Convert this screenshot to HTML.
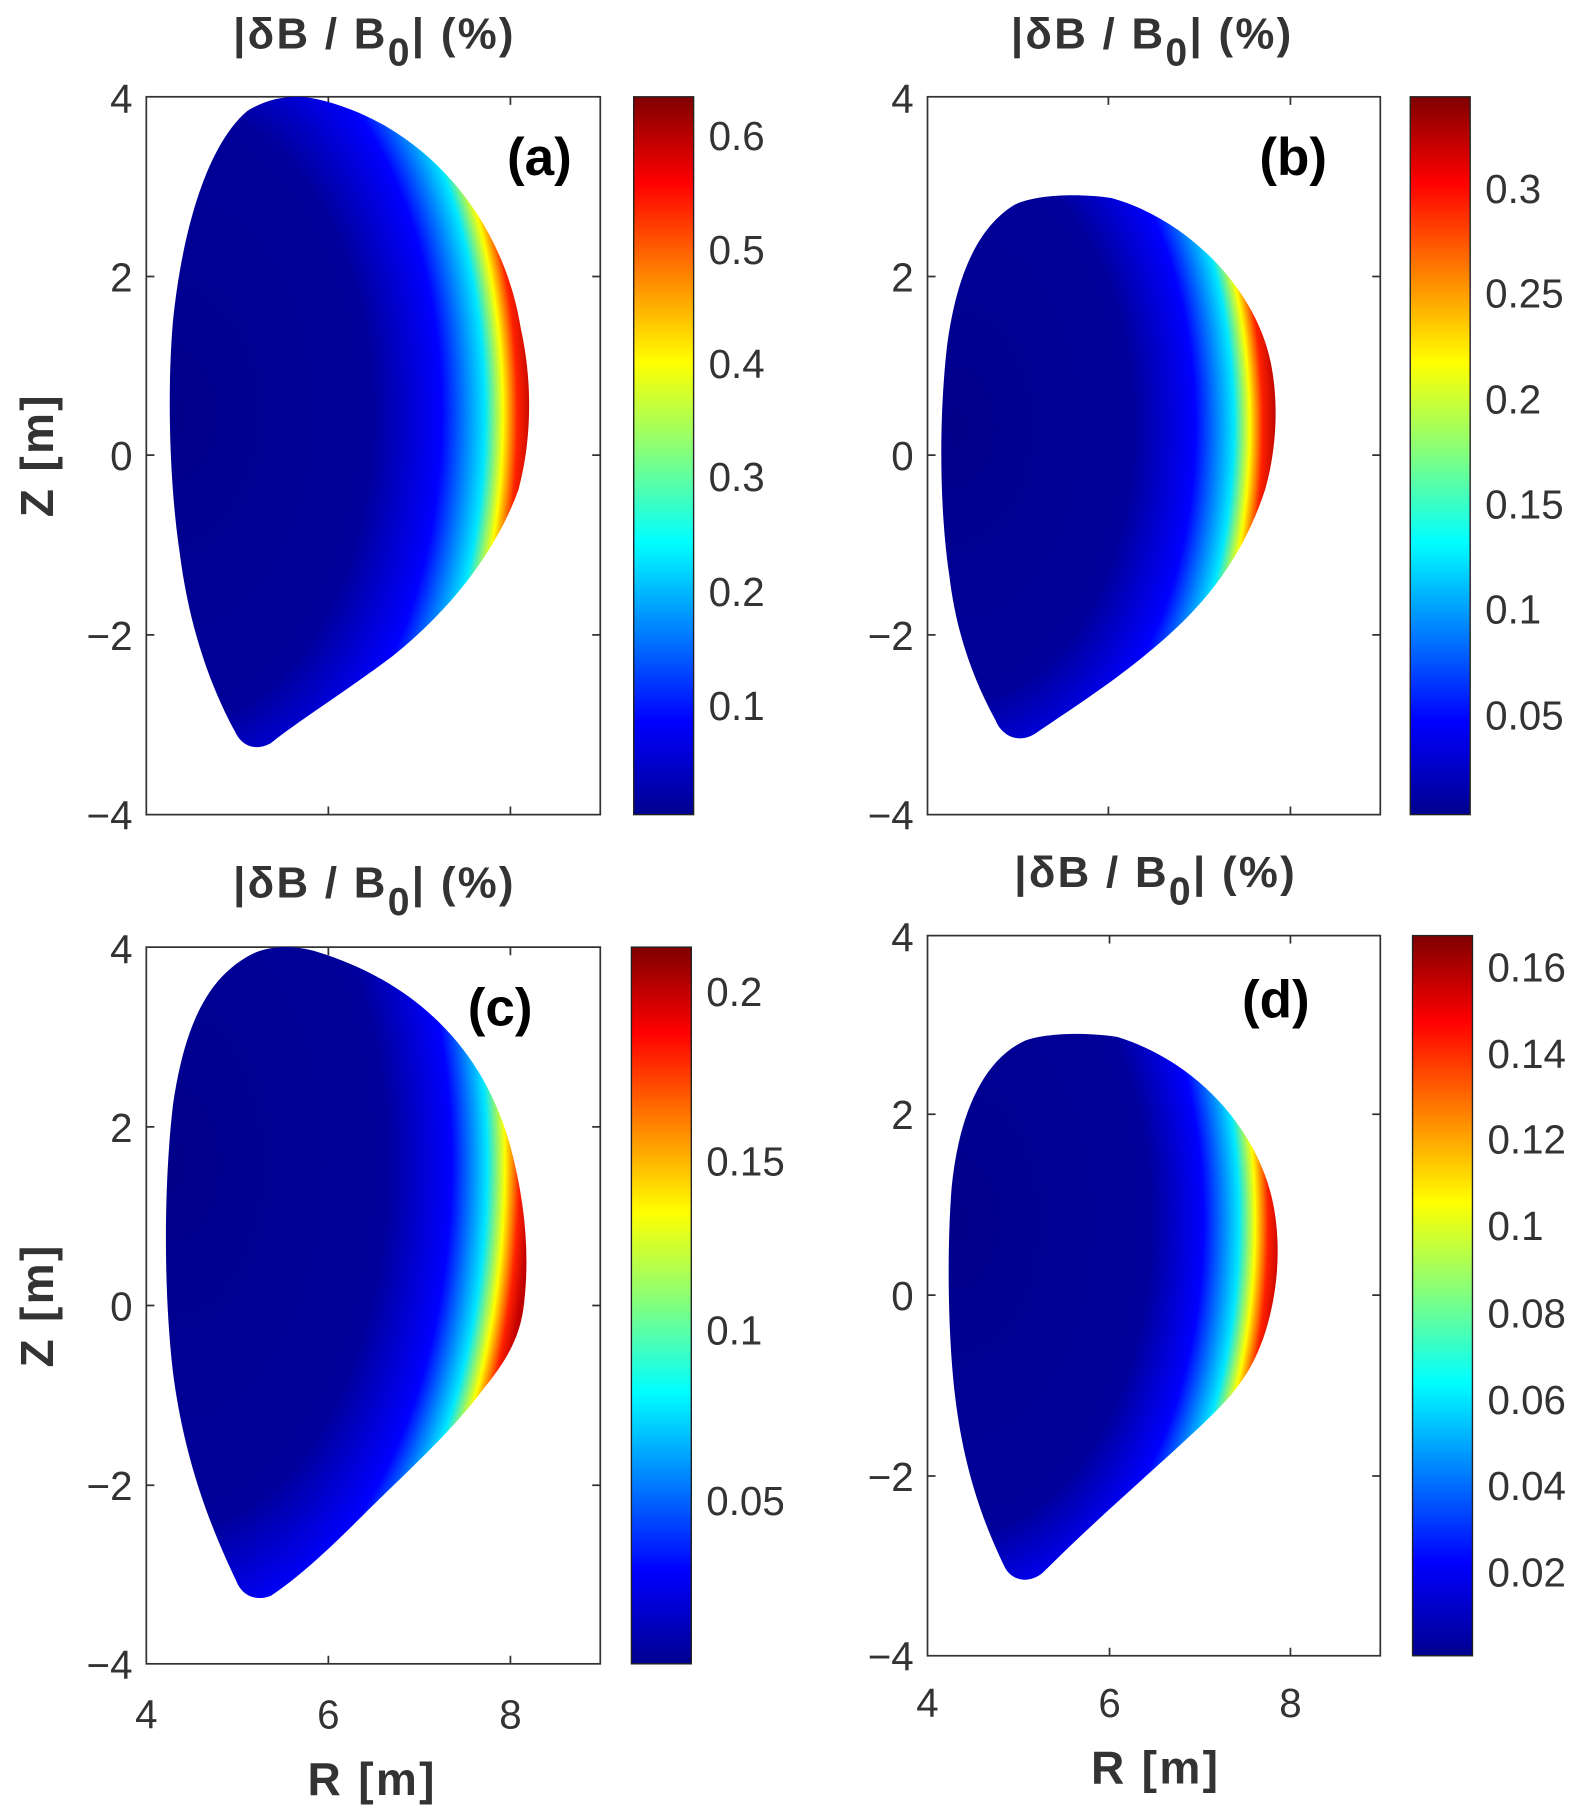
<!DOCTYPE html>
<html><head><meta charset="utf-8"><style>
html,body{margin:0;padding:0;background:#fff;}
svg{display:block;}
text{font-family:"Liberation Sans","DejaVu Sans",sans-serif;}
.t{font-size:35px;fill:#333;font-family:"DejaVu Sans","Liberation Sans",sans-serif;}
.b{font-weight:bold;fill:#333;}
</style></head><body>
<svg width="1590" height="1809" viewBox="0 0 1380 1570" preserveAspectRatio="none" xmlns="http://www.w3.org/2000/svg">
<defs>
<linearGradient id="cb" x1="0" y1="0" x2="0" y2="1">
<stop offset="0" stop-color="#7f0000"/><stop offset="0.12" stop-color="#ff0000"/>
<stop offset="0.37" stop-color="#ffff00"/><stop offset="0.5" stop-color="#80ff80"/>
<stop offset="0.62" stop-color="#00ffff"/><stop offset="0.87" stop-color="#0000ff"/>
<stop offset="1" stop-color="#00008f"/></linearGradient>
<radialGradient id="ga" gradientUnits="userSpaceOnUse" cx="150" cy="360" r="315" gradientTransform="translate(150,360) scale(1,1.55) translate(-150,-360)">
<stop offset="0" stop-color="#00008a"/><stop offset="0.55" stop-color="#00009a"/><stop offset="0.74" stop-color="#0000ff"/><stop offset="0.86" stop-color="#00e8ff"/><stop offset="0.91" stop-color="#ffff00"/><stop offset="0.95" stop-color="#ff2000"/><stop offset="1" stop-color="#b00000"/></radialGradient>
<radialGradient id="gb" gradientUnits="userSpaceOnUse" cx="830" cy="370" r="280" gradientTransform="translate(830,370) scale(1,1.55) translate(-830,-370)">
<stop offset="0" stop-color="#00008a"/><stop offset="0.55" stop-color="#00009a"/><stop offset="0.74" stop-color="#0000ff"/><stop offset="0.86" stop-color="#00e8ff"/><stop offset="0.91" stop-color="#ffff00"/><stop offset="0.95" stop-color="#ff2000"/><stop offset="1" stop-color="#b00000"/></radialGradient>
<radialGradient id="gc" gradientUnits="userSpaceOnUse" cx="150" cy="1010" r="310" gradientTransform="translate(150,1010) scale(1,1.7) translate(-150,-1010)">
<stop offset="0" stop-color="#00008a"/><stop offset="0.6" stop-color="#00009a"/><stop offset="0.78" stop-color="#0000ff"/><stop offset="0.88" stop-color="#00e8ff"/><stop offset="0.93" stop-color="#ffff00"/><stop offset="0.97" stop-color="#ff2000"/><stop offset="1" stop-color="#c00000"/></radialGradient>
<radialGradient id="gd" gradientUnits="userSpaceOnUse" cx="830" cy="1060" r="282" gradientTransform="translate(830,1060) scale(1,1.6) translate(-830,-1060)">
<stop offset="0" stop-color="#00008a"/><stop offset="0.6" stop-color="#00009a"/><stop offset="0.76" stop-color="#0000ff"/><stop offset="0.87" stop-color="#00e8ff"/><stop offset="0.92" stop-color="#ffff00"/><stop offset="0.96" stop-color="#ff2000"/><stop offset="1" stop-color="#c00000"/></radialGradient>
</defs>

<g font-size="38" class="b" text-anchor="middle" letter-spacing="2">
<text x="325" y="42">|δB / B<tspan dy="15" font-size="34">0</tspan><tspan dy="-15">|  (%)</tspan></text>
<text x="1000" y="42">|δB / B<tspan dy="15" font-size="34">0</tspan><tspan dy="-15">|  (%)</tspan></text>
<text x="325" y="779">|δB / B<tspan dy="15" font-size="34">0</tspan><tspan dy="-15">|  (%)</tspan></text>
<text x="1003" y="770">|δB / B<tspan dy="15" font-size="34">0</tspan><tspan dy="-15">|  (%)</tspan></text>
</g>

<g fill="none" stroke="#333" stroke-width="1.5">
<rect x="127" y="84" width="394" height="623"/>
<rect x="805" y="84" width="393" height="623"/>
<rect x="127" y="822" width="394" height="622"/>
<rect x="805" y="812" width="393" height="625"/>
<path d="M127 240h7M127 395h7M127 551h7M521 240h-7M521 395h-7M521 551h-7M285 707v-7M443 707v-7M285 84v7M443 84v7"/>
<path d="M805 240h7M805 395h7M805 551h7M1198 240h-7M1198 395h-7M1198 551h-7M962 707v-7M1120 707v-7M962 84v7M1120 84v7"/>
<path d="M127 978h7M127 1133h7M127 1289h7M521 978h-7M521 1133h-7M521 1289h-7M285 1444v-7M443 1444v-7M285 822v7M443 822v7"/>
<path d="M805 967h7M805 1124h7M805 1281h7M1198 967h-7M1198 1124h-7M1198 1281h-7M963 1437v-7M1120 1437v-7M963 812v7M1120 812v7"/>
</g>

<path fill="url(#ga)" d="M215 96 C235 84 255 82 275 86 C360 105 435 180 452 285 C462 330 462 380 450 425 C430 480 390 530 340 570 C300 600 260 625 235 645 C222 652 210 648 204 635 C185 600 165 550 156 480 C147 420 145 340 150 280 C158 200 180 125 215 96 Z"/>
<path fill="url(#gb)" d="M880 178 C900 168 940 168 965 172 C1030 190 1090 250 1103 315 C1110 350 1108 390 1098 425 C1080 480 1050 520 1010 555 C970 590 930 615 898 637 C885 645 870 640 864 625 C845 590 830 550 824 500 C815 440 815 360 822 300 C830 240 848 198 880 178 Z"/>
<path fill="url(#gc)" d="M215 830 C232 820 255 820 275 826 C360 852 420 910 443 995 C455 1040 460 1085 455 1130 C452 1160 440 1180 420 1205 C390 1245 350 1280 310 1320 C285 1345 258 1370 235 1385 C222 1390 210 1385 205 1372 C185 1330 160 1270 150 1190 C142 1120 142 1030 150 960 C160 890 180 850 215 830 Z"/>
<path fill="url(#gd)" d="M890 903 C910 896 945 896 970 900 C1040 922 1090 980 1104 1040 C1112 1075 1110 1115 1100 1150 C1090 1185 1075 1205 1055 1225 C1020 1260 960 1310 905 1365 C893 1375 878 1372 872 1360 C855 1325 838 1280 830 1220 C822 1160 822 1080 826 1030 C832 970 852 920 890 903 Z"/>

<g font-size="46" font-weight="bold" fill="#000">
<text x="440" y="152">(a)</text>
<text x="1093" y="152">(b)</text>
<text x="406" y="890">(c)</text>
<text x="1078" y="883">(d)</text>
</g>

<g stroke="#222" stroke-width="1.2">
<rect x="550" y="84" width="52" height="623" fill="url(#cb)"/>
<rect x="1224" y="84" width="52" height="623" fill="url(#cb)"/>
<rect x="548" y="822" width="52" height="622" fill="url(#cb)"/>
<rect x="1226" y="812" width="52" height="625" fill="url(#cb)"/>
</g>

<g class="t" text-anchor="end">
<text x="115" y="98">4</text><text x="115" y="253">2</text><text x="115" y="408">0</text><text x="115" y="564">−2</text><text x="115" y="720">−4</text>
<text x="793" y="98">4</text><text x="793" y="253">2</text><text x="793" y="408">0</text><text x="793" y="564">−2</text><text x="793" y="720">−4</text>
<text x="115" y="836">4</text><text x="115" y="991">2</text><text x="115" y="1146">0</text><text x="115" y="1302">−2</text><text x="115" y="1457">−4</text>
<text x="793" y="826">4</text><text x="793" y="980">2</text><text x="793" y="1137">0</text><text x="793" y="1294">−2</text><text x="793" y="1450">−4</text>
</g>
<g class="t" text-anchor="middle">
<text x="127" y="1500">4</text><text x="285" y="1500">6</text><text x="443" y="1500">8</text>
<text x="805" y="1490">4</text><text x="963" y="1490">6</text><text x="1120" y="1490">8</text>
</g>

<g class="t">
<text x="615" y="130">0.6</text><text x="615" y="229">0.5</text><text x="615" y="328">0.4</text><text x="615" y="426">0.3</text><text x="615" y="526">0.2</text><text x="615" y="625">0.1</text>
<text x="1289" y="176">0.3</text><text x="1289" y="267">0.25</text><text x="1289" y="359">0.2</text><text x="1289" y="450">0.15</text><text x="1289" y="541">0.1</text><text x="1289" y="633">0.05</text>
<text x="613" y="873">0.2</text><text x="613" y="1020">0.15</text><text x="613" y="1167">0.1</text><text x="613" y="1315">0.05</text>
<text x="1291" y="852">0.16</text><text x="1291" y="927">0.14</text><text x="1291" y="1001">0.12</text><text x="1291" y="1076">0.1</text><text x="1291" y="1152">0.08</text><text x="1291" y="1227">0.06</text><text x="1291" y="1302">0.04</text><text x="1291" y="1377">0.02</text>
</g>

<g class="b" font-size="40" text-anchor="middle" letter-spacing="2">
<text transform="translate(46,395) rotate(-90)">Z [m]</text>
<text transform="translate(46,1133) rotate(-90)">Z [m]</text>
<text x="323" y="1558">R [m]</text>
<text x="1003" y="1548">R [m]</text>
</g>
</svg>
</body></html>
